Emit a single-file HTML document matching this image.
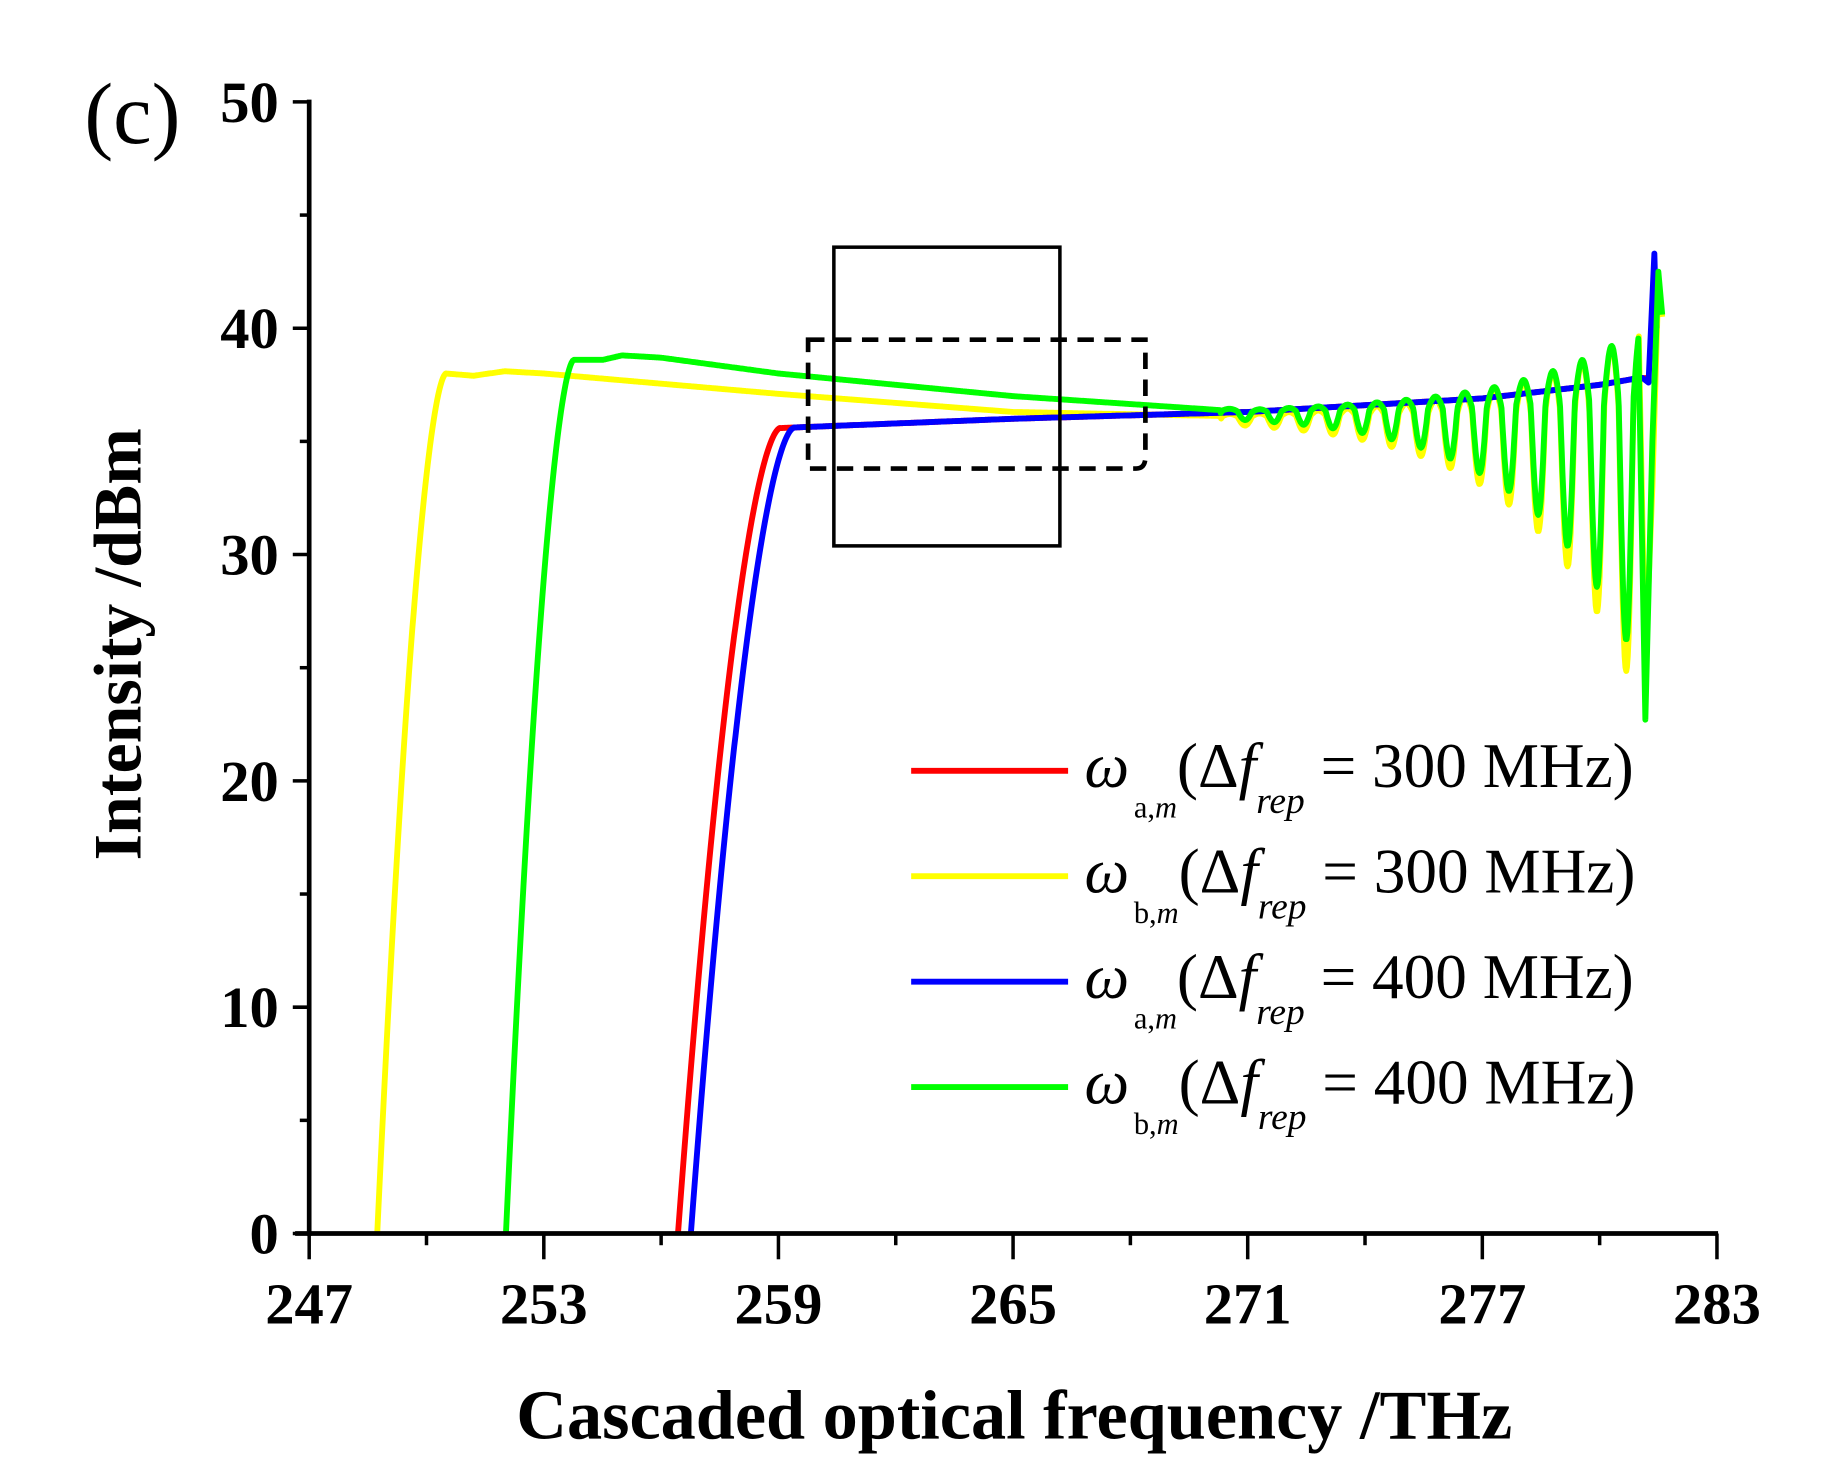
<!DOCTYPE html>
<html><head><meta charset="utf-8"><style>
html,body{margin:0;padding:0;background:#fff;width:1827px;height:1476px;overflow:hidden}
svg{display:block}
text{font-family:"Liberation Serif",serif}
</style></head><body>
<svg id="s" width="1827" height="1476" viewBox="0 0 1560 1260" preserveAspectRatio="none" xmlns="http://www.w3.org/2000/svg">
<g id="curves" fill="none" stroke-width="5" stroke-linejoin="round"></g>
<rect x="712" y="211" width="193" height="255" fill="none" stroke="#000" stroke-width="3"/>
<path d="M690 290 H978 V390 Q978 400 970 400 H690 Z" fill="none" stroke="#000" stroke-width="4" stroke-dasharray="14,9"/>
<g id="axes" stroke="#000" stroke-width="4"></g>
<g id="labels" font-weight="bold" font-size="50" fill="#000"></g>
<text x="72" y="122" font-size="74">(c)</text>
<text transform="translate(120,550) rotate(-90)" text-anchor="middle" font-size="58" font-weight="bold">Intensity /dBm</text>
<text x="866" y="1228" text-anchor="middle" font-size="60" font-weight="bold">Cascaded optical frequency /THz</text>
<g id="legend"></g>
</svg>
<script>
var X=function(f){return 264+(f-247)*33.39;},Y=function(v){return 1053-v*19.32;};
var ns="http://www.w3.org/2000/svg";
function el(p,t,a,txt){var e=document.createElementNS(ns,t);for(var k in a)e.setAttribute(k,a[k]);if(txt!=null)e.textContent=txt;p.appendChild(e);return e;}
var ax=document.getElementById('axes'),lb=document.getElementById('labels');
el(ax,'line',{x1:264,y1:85,x2:264,y2:1055});
el(ax,'line',{x1:252,y1:1053,x2:1467,y2:1053});
for(var v=0;v<=50;v+=5){var y=Y(v);el(ax,'line',{x1:v%10?256:250,y1:y,x2:264,y2:y,'stroke-width':3});
 if(v%10==0)el(lb,'text',{x:238,y:y+17,'text-anchor':'end'},String(v));}
for(var f=247;f<=283;f+=3){var x=X(f);el(ax,'line',{x1:x,y1:1053,x2:x,y2:(f-247)%6?1063:1075,'stroke-width':3});
 if((f-247)%6==0)el(lb,'text',{x:x,y:1130,'text-anchor':'middle'},String(f));}
function rise(x0,x1,top,f){var t=(x1-f)/(x1-x0);return top*(1-Math.pow(t,1.7));}
function interp(pts,f){for(var i=0;i<pts.length-1;i++){if(f<=pts[i+1][0]){var a=pts[i],b=pts[i+1];return a[1]+(b[1]-a[1])*(f-a[0])/(b[0]-a[0]);}}return pts[pts.length-1][1];}
function build(x0,x1,top,plat,osc,end,color,extra){
 var d=[],f;
 for(f=x0;f<=x1;f+=0.03)d.push([f,rise(x0,x1,top,f)]);
 for(f=x1;f<=end;f+=0.02){var v=interp(plat,f);
  if(osc&&f>270.3){var A=0.25*Math.exp((f-271)/2.9)*(osc.amp||1);var c=Math.cos(2*Math.PI*(f-osc.f0)/0.75);v+=A*c*(c>0?0.4:1.5);}
  d.push([f,v]);}
 if(extra)extra.forEach(function(p){d.push(p);});
 var s="M"+d.map(function(p){return X(p[0]).toFixed(1)+" "+Y(p[1]).toFixed(1);}).join(" L");
 el(document.getElementById('curves'),'path',{d:s,stroke:color});
}
var rb=[[259.2,35.6],[265,36.0],[271,36.3],[277,36.9],[280,37.5],[281,37.8]];
build(248.74,250.5,38,[[250.5,38],[251.2,37.9],[252,38.1],[253,38.0],[259,37.1],[265,36.3],[271,36.1],[277,36.3],[281.5,36.5]],{f0:270.55,amp:1.1},281.0,'#ffff00',[[281.17,25],[281.35,33],[281.5,42],[281.6,40.5]]);
build(256.43,259.05,35.6,rb,null,281.1,'#ff0000',[[281.2,37.8]]);
build(256.76,259.4,35.6,rb,null,281.1,'#0000ff',[[281.25,37.6],[281.4,43.3],[281.45,40]]);
build(252.03,253.77,38.6,[[253.77,38.6],[254.5,38.6],[255,38.8],[256,38.7],[259,38.0],[265,37.0],[271,36.3],[277,36.5],[281,36.8]],{f0:270.55,amp:1.0},281.0,'#00ff00',[[281.17,22.7],[281.35,35],[281.5,42.5],[281.6,40.6]]);
var lg=document.getElementById('legend');
[['#ff0000','a','300'],['#ffff00','b','300'],['#0000ff','a','400'],['#00ff00','b','400']].forEach(function(r,i){
 var y=658+i*90;
 el(lg,'line',{x1:778,y1:y,x2:912,y2:y,stroke:r[0],'stroke-width':5});
 var t=el(lg,'text',{x:926,y:y+14,'font-size':54});
 el(t,'tspan',{'font-style':'italic'},'ω');
 el(t,'tspan',{'font-size':26,dy:26,dx:4},r[1]+',');
 el(t,'tspan',{'font-size':26,'font-style':'italic'},'m');
 el(t,'tspan',{dy:-26},'(Δ');
 el(t,'tspan',{'font-style':'italic'},'f');
 el(t,'tspan',{'font-size':32,'font-style':'italic',dy:22},'rep');
 el(t,'tspan',{dy:-22},' = '+r[2]+' MHz)');
});
</script>
</body></html>
